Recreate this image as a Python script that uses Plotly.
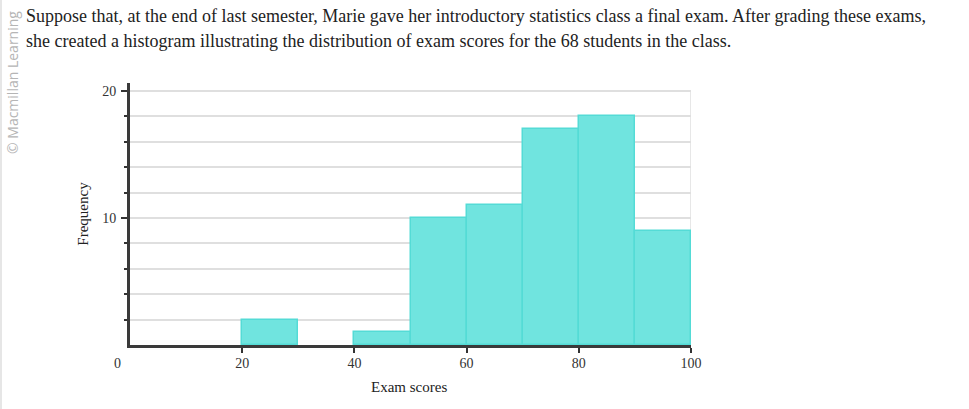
import plotly.graph_objects as go

# histogram bins (left edge, width 10)
bin_left = [20, 40, 50, 60, 70, 80, 90]
bin_width = [10, 10, 10, 10, 10, 10, 10]
frequency = [2, 1, 10, 11, 17, 18, 9]

x_ticks = [20, 40, 60, 80, 100]
y_ticks = [10, 20]
y_minor_ticks = [2, 4, 6, 8, 12, 14, 16, 18]

line1 = "Suppose that, at the end of last semester, Marie gave her introductory statistics class a final exam. After grading these exams,"
line2 = "she created a histogram illustrating the distribution of exam scores for the 68 students in the class."

serif = "Liberation Serif"
W, H = 969, 409
L, R, T, B = 130, 691, 83, 345


# paper coordinates are relative to the plot area, so convert from page pixels
def px(x):
    return (x - L) / (R - L)


def py(y):
    return (B - y) / (B - T)


fig = go.Figure()
fig.add_trace(go.Bar(
    x=bin_left, y=frequency, width=bin_width, offset=0,
    marker=dict(color="#70e4df", line=dict(color="#54dbd6", width=1.5)),
    hoverinfo="skip",
))

fig.update_xaxes(
    range=[0, 100], tickvals=x_ticks, ticks="outside", ticklen=5, tickwidth=2,
    tickcolor="#333333", showline=True, linecolor="#3a3a3a", linewidth=3,
    showgrid=False, zeroline=False, ticklabelstandoff=-2,
    tickfont=dict(family=serif, size=14, color="#333333"),
)
fig.update_yaxes(
    range=[0, 20.63], tickvals=y_ticks, ticks="outside", ticklen=6,
    tickwidth=2, tickcolor="#333333", showline=True, linecolor="#3a3a3a", linewidth=3,
    showgrid=True, gridcolor="#dfdfdf", gridwidth=1.5, zeroline=False,
    minor=dict(tickvals=y_minor_ticks, ticks="outside", ticklen=3, tickwidth=2,
               tickcolor="#333333", showgrid=True, gridcolor="#dfdfdf", gridwidth=1.5),
    tickfont=dict(family=serif, size=14, color="#333333"),
    ticklabelstandoff=2,
    title=dict(text="Frequency", font=dict(family=serif, size=15, color="#222222"), standoff=10),
)

# right border of the plot area
fig.add_shape(type="line", xref="x", yref="y", x0=100, x1=100, y0=0, y1=20,
              line=dict(color="#dfdfdf", width=1.5), layer="below")

# origin label sits left of the axis
fig.add_annotation(text="0", xref="paper", yref="paper", x=px(117), y=py(363),
                   xanchor="center", yanchor="middle", showarrow=False,
                   font=dict(family=serif, size=14, color="#333333"))
# x title is a little left of the plot centre in the original
fig.add_annotation(text="Exam scores", xref="paper", yref="paper", x=px(409), y=py(387),
                   xanchor="center", yanchor="middle", showarrow=False,
                   font=dict(family=serif, size=15, color="#222222"))
fig.add_annotation(text=line1, xref="paper", yref="paper", x=px(24), y=py(16),
                   xanchor="left", yanchor="middle", showarrow=False,
                   font=dict(family=serif, size=18, color="#222222"))
fig.add_annotation(text=line2, xref="paper", yref="paper", x=px(24), y=py(41),
                   xanchor="left", yanchor="middle", showarrow=False,
                   font=dict(family=serif, size=18, color="#222222"))
fig.add_annotation(text="© Macmillan Learning", xref="paper", yref="paper", x=px(12), y=py(83),
                   xanchor="center", yanchor="middle", textangle=-90, showarrow=False,
                   font=dict(family="Open Sans", size=14, color="#b5b5b5"))
# thin strip down the left edge of the page
fig.add_shape(type="line", xref="paper", yref="paper", x0=px(1), x1=px(1), y0=py(0), y1=py(H),
              line=dict(color="#e6e6e6", width=2))

fig.update_layout(
    width=W, height=H, showlegend=False, bargap=0,
    plot_bgcolor="white", paper_bgcolor="white",
    margin=dict(l=L, r=W - R, t=T, b=H - B),
)
fig.write_html("out.html", config=dict(displayModeBar=False),
               post_script="document.body.style.margin='0';")
